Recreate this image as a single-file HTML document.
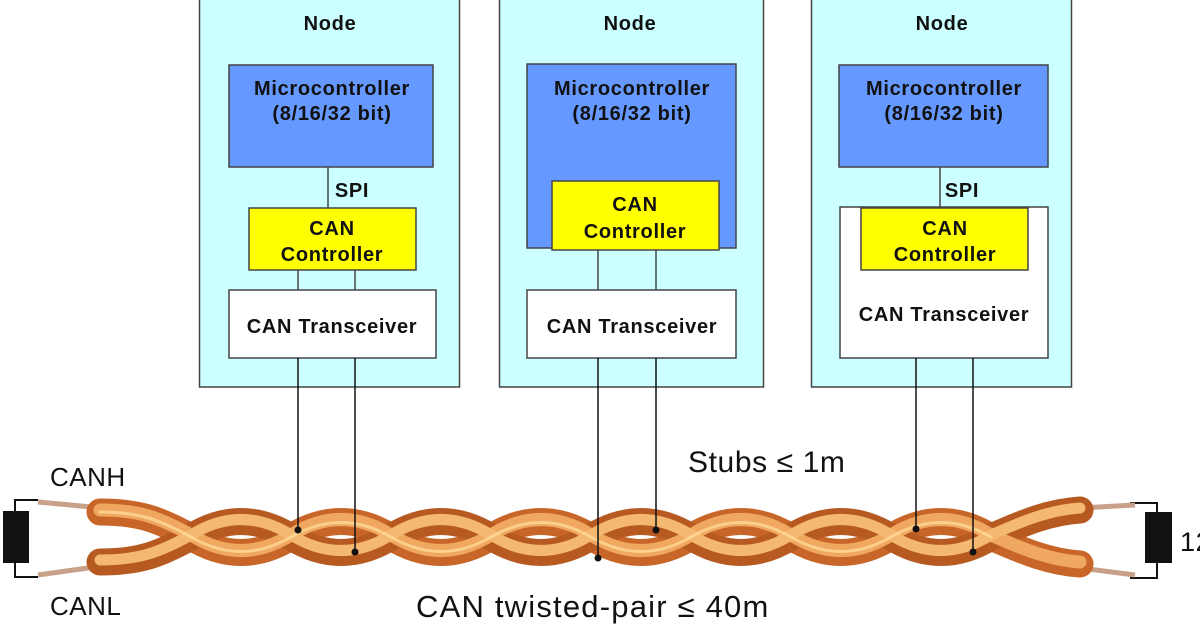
<!DOCTYPE html>
<html><head><meta charset="utf-8"><style>
html,body{margin:0;padding:0;background:#fff;width:1200px;height:630px;overflow:hidden}
svg{display:block}
.b{font-family:"Liberation Sans",Arial,sans-serif;font-weight:bold;font-size:20px;letter-spacing:0.7px;fill:#111;text-anchor:middle}
.r{font-family:"Liberation Sans",Arial,sans-serif;font-size:30px;letter-spacing:0.6px;fill:#111}
</style></head><body>
<svg width="1200" height="630" viewBox="0 0 1200 630" xmlns="http://www.w3.org/2000/svg">
<g stroke="#444" stroke-width="1.5">
<rect x="199.5" y="-2" width="260" height="389" fill="#ccffff"/>
<rect x="499.5" y="-2" width="264" height="389" fill="#ccffff"/>
<rect x="811.5" y="-2" width="260" height="389" fill="#ccffff"/>
<rect x="229" y="65" width="204" height="102" fill="#6699ff"/>
<line x1="328" y1="167" x2="328" y2="208"/>
<rect x="249" y="208" width="167" height="62" fill="#ffff00"/>
<line x1="298" y1="270" x2="298" y2="290"/><line x1="355" y1="270" x2="355" y2="290"/>
<rect x="229" y="290" width="207" height="68" fill="#fff"/>
<rect x="527" y="64" width="209" height="184" fill="#6699ff"/>
<rect x="552" y="181" width="167" height="69" fill="#ffff00"/>
<line x1="598" y1="250" x2="598" y2="290"/><line x1="656" y1="250" x2="656" y2="290"/>
<rect x="527" y="290" width="209" height="68" fill="#fff"/>
<rect x="839" y="65" width="209" height="102" fill="#6699ff"/>
<line x1="940" y1="167" x2="940" y2="208"/>
<rect x="840" y="207" width="208" height="151" fill="#fff"/>
<rect x="861" y="208" width="167" height="62" fill="#ffff00"/>
</g>
<g>
<text class="b" x="330" y="30">Node</text>
<text class="b" x="630" y="30">Node</text>
<text class="b" x="942" y="30">Node</text>
<text class="b" x="332" y="95">Microcontroller</text><text class="b" x="332" y="120">(8/16/32 bit)</text>
<text class="b" x="632" y="95">Microcontroller</text><text class="b" x="632" y="120">(8/16/32 bit)</text>
<text class="b" x="944" y="95">Microcontroller</text><text class="b" x="944" y="120">(8/16/32 bit)</text>
<text class="b" x="352" y="197">SPI</text><text class="b" x="962" y="197">SPI</text>
<text class="b" x="332" y="235">CAN</text><text class="b" x="332" y="261">Controller</text>
<text class="b" x="635" y="211">CAN</text><text class="b" x="635" y="238">Controller</text>
<text class="b" x="945" y="235">CAN</text><text class="b" x="945" y="261">Controller</text>
<text class="b" x="332" y="333">CAN Transceiver</text>
<text class="b" x="632" y="333">CAN Transceiver</text>
<text class="b" x="944" y="321">CAN Transceiver</text>
</g>
<g stroke="#111" stroke-width="2" fill="none">
<path d="M38 500 H15 V577 H38"/>
<path d="M1130 503 H1157 V578 H1130"/>
</g>
<rect x="3" y="511" width="26" height="52" fill="#111"/>
<rect x="1145" y="512" width="27" height="51" fill="#111"/>
<g stroke="#c9a088" stroke-width="5" fill="none">
<line x1="38" y1="502" x2="102" y2="508"/><line x1="38" y1="575" x2="102" y2="566"/>
<line x1="1080" y1="508" x2="1135" y2="505"/><line x1="1080" y1="568" x2="1135" y2="575"/>
</g>
<g fill="none" stroke-linecap="round">
<path d="M100 512 C140 512 160 520 191 537 Q241 568 291 537 T391 537 T491 537 T591 537 T691 537 T791 537 T891 537 T991 537 C1025 552 1050 562 1080 564" stroke="#c8662a" stroke-width="27"/>
<path d="M100 562 C140 562 160 554 191 537 Q241 506 291 537 T391 537 T491 537 T591 537 T691 537 T791 537 T891 537 T991 537 C1025 522 1050 512 1080 510" stroke="#b65a22" stroke-width="27"/>
<path d="M100 510 C140 510 160 518 191 535 Q241 566 291 535 T391 535 T491 535 T591 535 T691 535 T791 535 T891 535 T991 535 C1025 550 1050 560 1080 562" stroke="#f0a860" stroke-width="13"/>
<path d="M100 560 C140 560 160 552 191 535 Q241 504 291 535 T391 535 T491 535 T591 535 T691 535 T791 535 T891 535 T991 535 C1025 520 1050 510 1080 508" stroke="#f5b870" stroke-width="11"/>
<path d="M100 512 C140 512 160 520 191 537 Q241 566 291 537 T391 537 T491 537 T591 537 T691 537 T791 537 T891 537 T991 537" stroke="#ffe0a0" stroke-width="3" opacity="0.7"/>
</g>
<g stroke="#111" stroke-width="1.5">
<line x1="298" y1="358" x2="298" y2="530"/><line x1="355" y1="358" x2="355" y2="552"/>
<line x1="598" y1="358" x2="598" y2="558"/><line x1="656" y1="358" x2="656" y2="530"/>
<line x1="916" y1="358" x2="916" y2="529"/><line x1="973" y1="358" x2="973" y2="552"/>
</g>
<g fill="#111">
<circle cx="298" cy="530" r="3.5"/><circle cx="355" cy="552" r="3.5"/>
<circle cx="598" cy="558" r="3.5"/><circle cx="656" cy="530" r="3.5"/>
<circle cx="916" cy="529" r="3.5"/><circle cx="973" cy="552" r="3.5"/>
</g>
<text class="r" x="50" y="486" style="font-size:26px;letter-spacing:0.5px">CANH</text>
<text class="r" x="50" y="615" style="font-size:26px;letter-spacing:0.5px">CANL</text>
<text class="r" x="688" y="472">Stubs ≤ 1m</text>
<text class="r" x="416" y="617" style="letter-spacing:1.2px;font-size:31px">CAN twisted-pair ≤ 40m</text>
<text class="r" x="1180" y="551" style="font-size:27px">120</text>
</svg>
</body></html>
